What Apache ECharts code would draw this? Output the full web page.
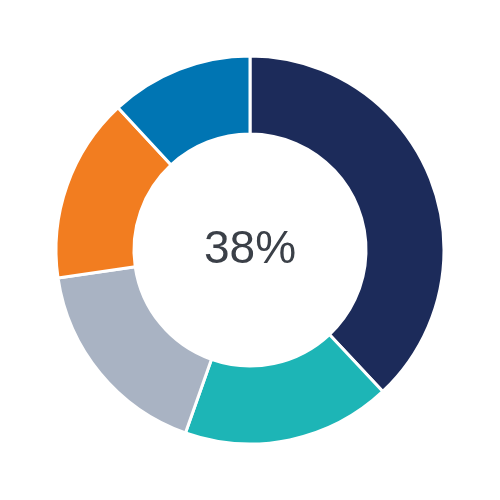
<!DOCTYPE html>
<html><head><meta charset="utf-8">
<script src="https://cdn.jsdelivr.net/npm/echarts@6/dist/echarts.min.js"></script>
<style>html,body{margin:0;padding:0;background:#fff}#c{width:500px;height:500px}</style>
</head><body><div id="c"></div>
<script>
const categories = ['A', 'B', 'C', 'D', 'E'];
const values = [38, 17.4, 17.3, 15.4, 11.9];
const colors = ['#1c2b5a', '#1db5b6', '#a9b3c3', '#f27d20', '#0075b3'];
const centerLabel = '38%';

const chart = echarts.init(document.getElementById('c'), null, {renderer: 'canvas'});
chart.setOption({
  animation: false,
  title: {
    text: centerLabel, left: 'center', top: 'middle',
    textStyle: {fontSize: 46, fontWeight: 'normal', color: '#3b4048', fontFamily: 'Liberation Sans'}
  },
  series: [{
    type: 'pie',
    center: ['50%', '50%'],
    radius: [116, 194],
    startAngle: 90,
    clockwise: true,
    label: {show: false},
    labelLine: {show: false},
    itemStyle: {borderColor: '#fff', borderWidth: 3},
    data: categories.map((c, i) => ({name: c, value: values[i], itemStyle: {color: colors[i]}}))
  }]
});
</script></body></html>
